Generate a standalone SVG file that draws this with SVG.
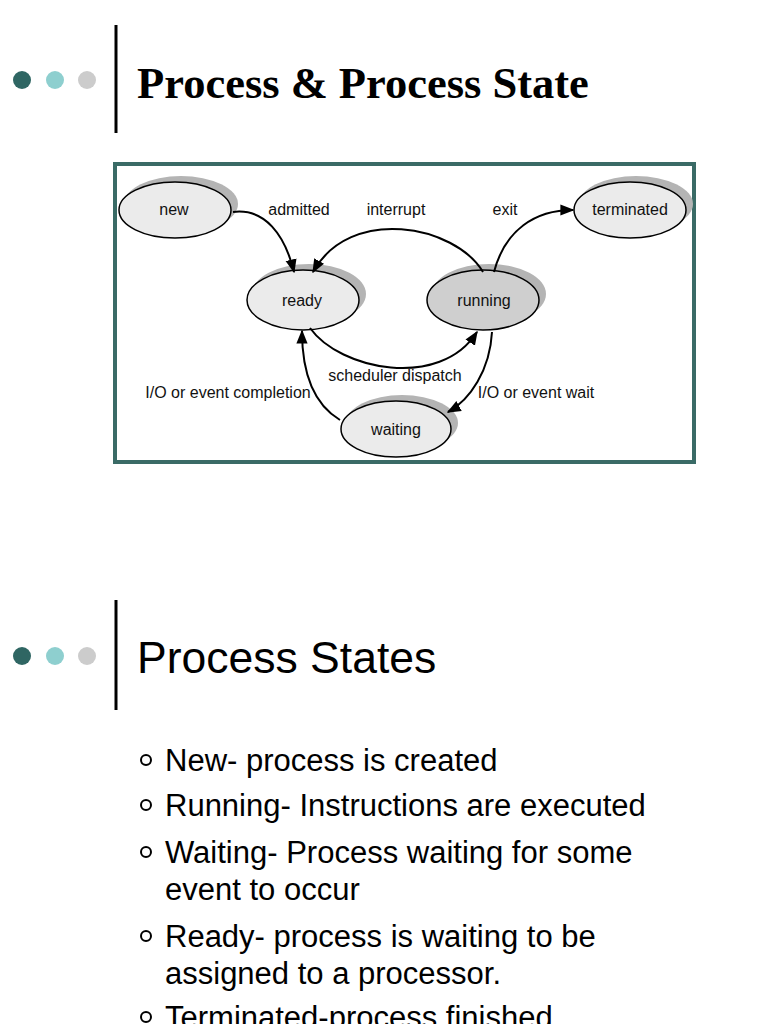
<svg xmlns="http://www.w3.org/2000/svg" width="768" height="1024" viewBox="0 0 768 1024">
<style>
.st{fill:#ebebeb;stroke:#000;stroke-width:1.5}
.sh{fill:#b4b4b4}
.lb{font-family:"Liberation Sans",Arial,sans-serif;font-size:16px;fill:#111;text-anchor:middle}
.c{fill:none;stroke:#000;stroke-width:2}
.bt{font-family:"Liberation Sans",Arial,sans-serif;font-size:31px;fill:#000}
.bl{fill:none;stroke:#000;stroke-width:2}
</style>
<defs><marker id="a" viewBox="0 0 10 10" refX="9" refY="5" markerWidth="7" markerHeight="7" orient="auto"><path d="M0,1 L10,5 L0,9 z"/></marker></defs>
<rect width="768" height="1024" fill="#fff"/>
<circle cx="22" cy="80" r="9" fill="#2f6663"/><circle cx="55" cy="80" r="9" fill="#8ecfcf"/><circle cx="87" cy="80" r="9" fill="#cccccc"/>
<line x1="116" y1="25" x2="116" y2="133" stroke="#000" stroke-width="3"/>
<text x="137" y="98" font-family="'Liberation Serif',serif" font-weight="bold" font-size="44.5">Process &amp; Process State</text>
<rect x="115" y="164" width="579" height="298" fill="#fff" stroke="#3a6b66" stroke-width="4"/>
<g id="new"><ellipse class="sh" cx="181" cy="204" rx="57" ry="28"/><ellipse class="st" cx="175" cy="210" rx="56" ry="28"/><text class="lb" x="174" y="215">new</text></g>
<g id="terminated"><ellipse class="sh" cx="636" cy="204" rx="57" ry="28"/><ellipse class="st" cx="630" cy="210" rx="56" ry="28"/><text class="lb" x="630" y="215">terminated</text></g>
<g id="ready"><ellipse class="sh" cx="309" cy="294" rx="57" ry="30"/><ellipse class="st" cx="303" cy="300" rx="56" ry="30"/><text class="lb" x="302" y="306">ready</text></g>
<g id="running"><ellipse class="sh" cx="489" cy="294" rx="57" ry="30"/><ellipse class="st" cx="483" cy="300" rx="56" ry="30" style="fill:#cfcfcf"/><text class="lb" x="484" y="306">running</text></g>
<g id="waiting"><ellipse class="sh" cx="402" cy="423" rx="56" ry="28"/><ellipse class="st" cx="396" cy="429" rx="55" ry="28"/><text class="lb" x="396" y="435">waiting</text></g>
<g id="connectors">
<path class="c" marker-end="url(#a)" d="M233,212 C265,208 285,235 294,272"/>
<path class="c" marker-end="url(#a)" d="M483,272 C455,225 350,205 313,272"/>
<path class="c" marker-end="url(#a)" d="M494,272 C505,230 535,210 573,210"/>
<path class="c" marker-end="url(#a)" d="M310,328 C340,370 440,390 477,332"/>
<path class="c" marker-end="url(#a)" d="M492,332 C490,370 470,400 448,412"/>
<path class="c" marker-end="url(#a)" d="M340,420 C315,405 302,375 302,331"/>
</g>
<text class="lb" x="299" y="215">admitted</text>
<text class="lb" x="396" y="215">interrupt</text>
<text class="lb" x="505" y="215">exit</text>
<text class="lb" x="395" y="381">scheduler dispatch</text>
<text class="lb" x="228" y="398">I/O or event completion</text>
<text class="lb" x="536" y="398">I/O or event wait</text>
<circle cx="22" cy="656" r="9" fill="#2f6663"/><circle cx="55" cy="656" r="9" fill="#8ecfcf"/><circle cx="87" cy="656" r="9" fill="#cccccc"/>
<line x1="116" y1="600" x2="116" y2="710" stroke="#000" stroke-width="3"/>
<text x="137" y="673" font-family="'Liberation Sans',Arial,sans-serif" font-size="44.5">Process States</text>
<circle class="bl" cx="146" cy="760" r="5"/><text class="bt" x="165" y="771">New- process is created</text>
<circle class="bl" cx="146" cy="805" r="5"/><text class="bt" x="165" y="816">Running- Instructions are executed</text>
<circle class="bl" cx="146" cy="852" r="5"/><text class="bt" x="165" y="863">Waiting- Process waiting for some</text>
<text class="bt" x="165" y="900">event to occur</text>
<circle class="bl" cx="146" cy="936" r="5"/><text class="bt" x="165" y="947">Ready- process is waiting to be</text>
<text class="bt" x="165" y="984">assigned to a processor.</text>
<circle class="bl" cx="146" cy="1017" r="5"/><text class="bt" x="165" y="1028">Terminated-process finished</text>
</svg>
